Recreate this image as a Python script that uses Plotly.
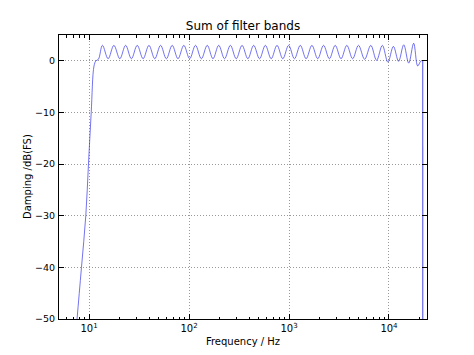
import math
import plotly.graph_objects as go

# Low-frequency edge (Hz, dB)
rise_freq = [7.0, 7.58, 8.39, 9.27, 9.86, 10.5, 11.2, 11.7]
rise_db = [-58.0, -50.0, -40.0, -30.0, -20.0, -10.0, -1.0, 0.0]

# Ripple: peaks and troughs
peak_freq = [13.6, 17.7, 23.2, 30.3, 39.7, 51.9, 67.8, 88.7, 116, 152, 198, 259, 339,
             443, 580, 758, 991, 1296, 1694, 2215, 2896, 3787, 4952, 6577, 8585,
             11070, 14050, 17660]
peak_db = [3.0, 3.0, 3.0, 3.0, 3.0, 3.0, 3.0, 3.0, 3.0, 3.0, 3.0, 3.0, 3.0,
           3.0, 3.0, 3.0, 3.0, 3.0, 3.0, 3.0, 3.0, 3.0, 3.0, 3.0, 3.0,
           2.8, 3.1, 3.4]
trough_freq = [12.4, 15.5, 20.3, 26.5, 34.7, 45.4, 59.3, 77.5, 101.4, 132.8, 173.5,
               226.5, 296.3, 387.5, 506.9, 663, 866.7, 1133, 1482, 1937, 2533, 3312,
               4330, 5707, 7514, 9749, 12470, 15750]
trough_db = [0.3, 0.4, 0.4, 0.4, 0.4, 0.4, 0.4, 0.4, 0.4, 0.4, 0.4,
             0.4, 0.4, 0.4, 0.4, 0.4, 0.4, 0.4, 0.4, 0.4, 0.4, 0.4,
             0.4, 0.3, 0.1, -0.25, -0.1, -0.45]

# High-frequency edge (last point: the cut-off drop)
fall_freq = [19370, 20900, 21730]
fall_db = [-1.0, 0.0, 0.0]
cut_freq = [21730, 21760]
cut_db = [0.0, -100.0]

freq = list(rise_freq)
db = list(rise_db)
for tf, td, pf, pd in zip(trough_freq, trough_db, peak_freq, peak_db):
    freq += [tf, pf]
    db += [td, pd]
freq += fall_freq
db += fall_db

x_ticks = [10, 100, 1000, 10000]
x_ticktext = ["10<sup>1</sup>", "10<sup>2</sup>", "10<sup>3</sup>", "10<sup>4</sup>"]
y_ticks = [0, -10, -20, -30, -40, -50]

minor_vals = [m * 10 ** e for e in range(0, 5) for m in range(2, 10) if 5 <= m * 10 ** e <= 24000]

font = "DejaVu Sans, sans-serif"
W, H = 466, 347
PLOT_W = 368
line_color = "rgba(40,40,230,0.65)"

fig = go.Figure()
fig.add_trace(go.Scatter(x=freq, y=db, mode="lines",
                         line=dict(color=line_color, width=1, shape="spline", smoothing=1.0),
                         hoverinfo="skip", showlegend=False))
fig.add_trace(go.Scatter(x=cut_freq, y=cut_db, mode="lines",
                         line=dict(color=line_color, width=1.3),
                         hoverinfo="skip", showlegend=False))

fig.update_layout(
    width=W, height=H,
    margin=dict(l=51, r=47, t=27, b=36),
    paper_bgcolor="white", plot_bgcolor="white",
    font=dict(family=font, size=10, color="black"),
    title=dict(text="Sum of filter bands", x=0.5, xanchor="center", xref="paper",
               y=1 - 18 / H, yref="container", yanchor="middle",
               font=dict(family=font, size=12, color="black")),
    annotations=[dict(text="Damping /dB(FS)", xref="paper", yref="paper",
                      x=-32 / PLOT_W, y=0.5, xanchor="center", yanchor="middle",
                      textangle=-90, showarrow=False, font=dict(family=font, size=10))],
)
fig.update_xaxes(type="log", range=[math.log10(5), math.log10(24000)], automargin=False,
                 tickmode="array", tickvals=x_ticks, ticktext=x_ticktext,
                 ticks="inside", ticklen=5, tickcolor="black",
                 showline=True, linecolor="black", linewidth=1, mirror="ticks",
                 showgrid=True, gridcolor="#999", griddash="1px,2px", gridwidth=1,
                 minor=dict(tickmode="array", tickvals=minor_vals, ticks="inside",
                            ticklen=2.5, tickcolor="black", showgrid=False),
                 zeroline=False,
                 title=dict(text="Frequency / Hz", standoff=4, font=dict(size=10)),
                 tickfont=dict(size=10))
fig.update_yaxes(range=[-50, 5], tickmode="array", tickvals=y_ticks, automargin=False,
                 ticks="inside", ticklen=5, tickcolor="black",
                 showline=True, linecolor="black", linewidth=1, mirror="ticks",
                 showgrid=True, gridcolor="#999", griddash="1px,2px", gridwidth=1,
                 zeroline=False, ticklabelstandoff=1,
                 tickfont=dict(size=9.5))

fig.write_html("out.html")
